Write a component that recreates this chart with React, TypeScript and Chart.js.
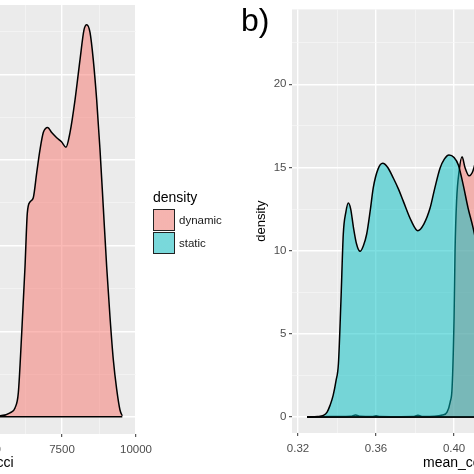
import { useEffect, useRef } from "react";
import { Chart, registerables } from "chart.js";

Chart.register(...registerables);

const FONT = "'Liberation Sans', Arial, Helvetica, sans-serif";

// ---- panel a: total cci, dynamic runs (density in units of 1e-4) ----
const totalCci = [
  0, 2500, 5000, 5406, 5744, 5912, 6024, 6139, 6250, 6328, 6419, 6530, 6645, 6757,
  6868, 7017, 7152, 7321, 7490, 7635, 7770, 7939, 8108, 8243, 8334, 8446, 8557,
  8672, 8784, 8895, 9010, 9121, 9233, 9348, 9459, 9537,
];
const totalCciDynamic = [
  0.0, 0.004, 0.03, 0.012, 0.047, 0.105, 0.28, 0.98, 1.75, 2.38, 2.51, 2.56, 2.85, 3.12,
  3.32, 3.38, 3.32, 3.26, 3.21, 3.15, 3.32, 3.7, 4.17, 4.52, 4.58, 4.49, 4.17,
  3.7, 3.12, 2.45, 1.75, 1.17, 0.67, 0.32, 0.08, 0.012,
];
const totalCciTicks = [0, 1250, 2500, 3750, 5000, 6250, 7500, 8750, 10000];
const totalCciTickLabels = ["0", "", "2500", "", "5000", "", "7500", "", "10000"];
const totalDensityTicks = [0, 0.5, 1, 1.5, 2, 2.5, 3, 3.5, 4, 4.5];
const totalDensityTickLabels = ["0", "", "1", "", "2", "", "3", "", "4", ""];

// ---- panel b: mean cci ----
const meanCciStaticX = [
  0.3246, 0.33, 0.333, 0.3349, 0.3364, 0.338, 0.3395, 0.3407, 0.342, 0.3432, 0.3445,
  0.3458, 0.347, 0.3484, 0.35, 0.3518, 0.3535, 0.3552, 0.357, 0.3586, 0.361, 0.3634,
  0.366, 0.3689, 0.3715, 0.374, 0.378, 0.3814, 0.3845, 0.3877, 0.39, 0.3928, 0.395,
  0.3974, 0.4, 0.4022, 0.4046, 0.4072, 0.4097, 0.413, 0.417, 0.421, 0.425, 0.43, 0.435,
];
const meanCciStatic = [
  0, 0.03, 0.1, 0.3, 0.7, 1.3, 2.2, 3.2, 7.0, 11.0, 12.3,
  12.86, 12.5, 11.4, 10.4, 9.96, 10.3, 11.0, 12.4, 13.8, 14.9, 15.25,
  15.0, 14.35, 13.7, 12.96, 11.8, 11.2, 11.6, 12.56, 13.7, 14.95, 15.5,
  15.75, 15.6, 15.15, 14.0, 12.55, 11.4, 9.5, 6.5, 3.5, 1.2, 0.2, 0,
];
const meanCciDynamicX = [
  0.3246, 0.33, 0.34, 0.347, 0.3495, 0.352, 0.358, 0.36, 0.362, 0.37, 0.379, 0.3815,
  0.384, 0.39, 0.394, 0.3964, 0.398, 0.399, 0.4, 0.4005, 0.4013, 0.4026, 0.4041,
  0.4056, 0.4077, 0.4097, 0.413, 0.417, 0.421, 0.424, 0.427, 0.432, 0.438, 0.444,
  0.45, 0.458, 0.465,
];
const meanCciDynamic = [
  0, 0.02, 0.03, 0.05, 0.12, 0.04, 0.03, 0.07, 0.03, 0.02, 0.03, 0.1,
  0.03, 0.04, 0.12, 0.3, 0.9, 1.8, 6.0, 10.0, 13.0, 14.8, 15.65,
  15.0, 14.5, 14.8, 16.5, 19.0, 22.0, 23.3, 22.0, 17.0, 10.0, 4.0,
  1.0, 0.1, 0,
];
const meanCciTicks = [0.32, 0.34, 0.36, 0.38, 0.4, 0.42, 0.44, 0.46, 0.48];
const meanCciTickLabels = ["0.32", "", "0.36", "", "0.40", "", "0.44", "", "0.48"];
const meanDensityTicks = [0, 2.5, 5, 7.5, 10, 12.5, 15, 17.5, 20, 22.5];
const meanDensityTickLabels = ["0", "", "5", "", "10", "", "15", "", "20", ""];

const seriesNames = ["dynamic", "static"];
const seriesFills = ["rgba(248,118,109,0.5)", "rgba(0,191,196,0.5)"];

type Series = { name: string; xs: number[]; ys: number[]; fill: string; layer: number };

// Each density is drawn as a filled curve plus its closing edge along zero.
function densityDatasets(series: Series[]) {
  const out: any[] = [];
  series.forEach((s) => {
    out.push({
      label: s.name,
      data: s.xs.map((x, i) => ({ x, y: s.ys[i] })),
      borderColor: "#000000",
      borderWidth: 1.5,
      backgroundColor: s.fill,
      fill: "origin",
      pointRadius: 0,
      cubicInterpolationMode: "monotone",
      order: s.layer * 2 + 1,
    });
    out.push({
      label: s.name + " base",
      data: [
        { x: s.xs[0], y: 0 },
        { x: s.xs[s.xs.length - 1], y: 0 },
      ],
      borderColor: "#000000",
      borderWidth: 1.5,
      fill: false,
      pointRadius: 0,
      order: s.layer * 2,
    });
  });
  return out;
}

const panelBackground = {
  id: "panelBackground",
  beforeDraw(chart: any) {
    const { ctx, chartArea: a } = chart;
    ctx.save();
    ctx.fillStyle = "#EBEBEB";
    ctx.fillRect(a.left, a.top, a.right - a.left, a.bottom - a.top);
    ctx.restore();
  },
};

function gridFor(labels: string[], drawTicks: boolean) {
  return {
    color: (c: any) => (labels[c.index] ? "#FFFFFF" : "#F7F7F7"),
    lineWidth: (c: any) => (labels[c.index] ? 1.4 : 0.7),
    drawTicks,
    tickLength: 3,
    tickWidth: 1,
    tickColor: (c: any) => (labels[c.index] ? "#333333" : "rgba(0,0,0,0)"),
  };
}

function xAxis(ticks: number[], labels: string[], min: number, max: number, title: string, height: number) {
  return {
    type: "linear",
    min,
    max,
    afterBuildTicks: (s: any) => {
      s.ticks = ticks.map((v) => ({ value: v }));
    },
    afterFit: (s: any) => {
      s.height = height;
    },
    ticks: {
      callback: (_v: any, i: number) => labels[i],
      color: "#4D4D4D",
      font: { family: FONT, size: 11.5 },
      padding: 5.5,
      maxRotation: 0,
      autoSkip: false,
    },
    grid: gridFor(labels, true),
    border: { display: false },
    title: {
      display: true,
      text: title,
      color: "#000000",
      font: { family: FONT, size: 14 },
      padding: { top: 0, bottom: 2 },
    },
  };
}

function baseOptions(scales: any, padding: any) {
  return {
    responsive: false,
    animation: false,
    layout: { padding },
    plugins: { legend: { display: false }, tooltip: { enabled: false } },
    scales,
  };
}

export default function App() {
  const leftRef = useRef<HTMLCanvasElement>(null);
  const rightRef = useRef<HTMLCanvasElement>(null);

  useEffect(() => {
    const left = new Chart(leftRef.current!, {
      type: "line",
      data: {
        datasets: densityDatasets([
          { name: seriesNames[0], xs: totalCci, ys: totalCciDynamic, fill: seriesFills[0], layer: 1 },
        ]),
      },
      options: baseOptions(
        {
          x: xAxis(totalCciTicks, totalCciTickLabels, 0, 10000, "total_cci", 40),
          y: {
            type: "linear",
            min: -0.2,
            max: 4.81,
            afterBuildTicks: (s: any) => {
              s.ticks = totalDensityTicks.map((v) => ({ value: v }));
            },
            afterFit: (s: any) => {
              s.width = 0;
            },
            ticks: { display: false },
            grid: gridFor(totalDensityTickLabels, false),
            border: { display: false },
          },
        },
        { left: 30, right: 30, top: 5, bottom: 0 }
      ) as any,
      plugins: [panelBackground],
    });

    const right = new Chart(rightRef.current!, {
      type: "line",
      data: {
        datasets: densityDatasets([
          { name: seriesNames[0], xs: meanCciDynamicX, ys: meanCciDynamic, fill: seriesFills[0], layer: 1 },
          { name: seriesNames[1], xs: meanCciStaticX, ys: meanCciStatic, fill: seriesFills[1], layer: 0 },
        ]),
      },
      options: baseOptions(
        {
          x: xAxis(meanCciTicks, meanCciTickLabels, 0.3169, 0.482, "mean_cci", 41),
          y: {
            type: "linear",
            min: -0.96,
            max: 24.5,
            afterBuildTicks: (s: any) => {
              s.ticks = meanDensityTicks.map((v) => ({ value: v }));
            },
            afterFit: (s: any) => {
              s.width = 52;
            },
            ticks: {
              callback: (_v: any, i: number) => meanDensityTickLabels[i],
              color: "#4D4D4D",
              font: { family: FONT, size: 11.5 },
              padding: 2.5,
            },
            grid: gridFor(meanDensityTickLabels, true),
            border: { display: false },
            title: {
              display: true,
              text: "density",
              color: "#000000",
              font: { family: FONT, size: 13 },
              padding: { top: 14, bottom: 0 },
            },
          },
        },
        { left: 0, right: 30, top: 7, bottom: 0 }
      ) as any,
      plugins: [panelBackground],
    });

    return () => {
      left.destroy();
      right.destroy();
    };
  }, []);

  return (
    <div
      style={{
        position: "fixed",
        left: 0,
        top: 0,
        width: 474,
        height: 474,
        overflow: "hidden",
        background: "#FFFFFF",
        fontFamily: FONT,
      }}
    >
      <canvas ref={leftRef} width={356} height={474} style={{ position: "absolute", left: -190, top: 0 }} />
      <canvas ref={rightRef} width={404} height={474} style={{ position: "absolute", left: 240, top: 0 }} />

      <div style={{ position: "absolute", left: 241, top: 4, fontSize: 32, lineHeight: "32px", color: "#000" }}>b)</div>

      <div style={{ position: "absolute", left: 153, top: 188 }}>
        <div style={{ fontSize: 14, lineHeight: "18px", color: "#000", marginBottom: 2 }}>density</div>
        {seriesNames.map((name, i) => (
          <div key={name} style={{ display: "flex", alignItems: "center", height: 23 }}>
            <div
              style={{
                width: 20,
                height: 20,
                border: "1px solid #222",
                background: `linear-gradient(${seriesFills[i]}, ${seriesFills[i]}), #F2F2F2`,
              }}
            />
            <span style={{ fontSize: 11.5, color: "#1A1A1A", marginLeft: 4 }}>{name}</span>
          </div>
        ))}
      </div>
    </div>
  );
}
